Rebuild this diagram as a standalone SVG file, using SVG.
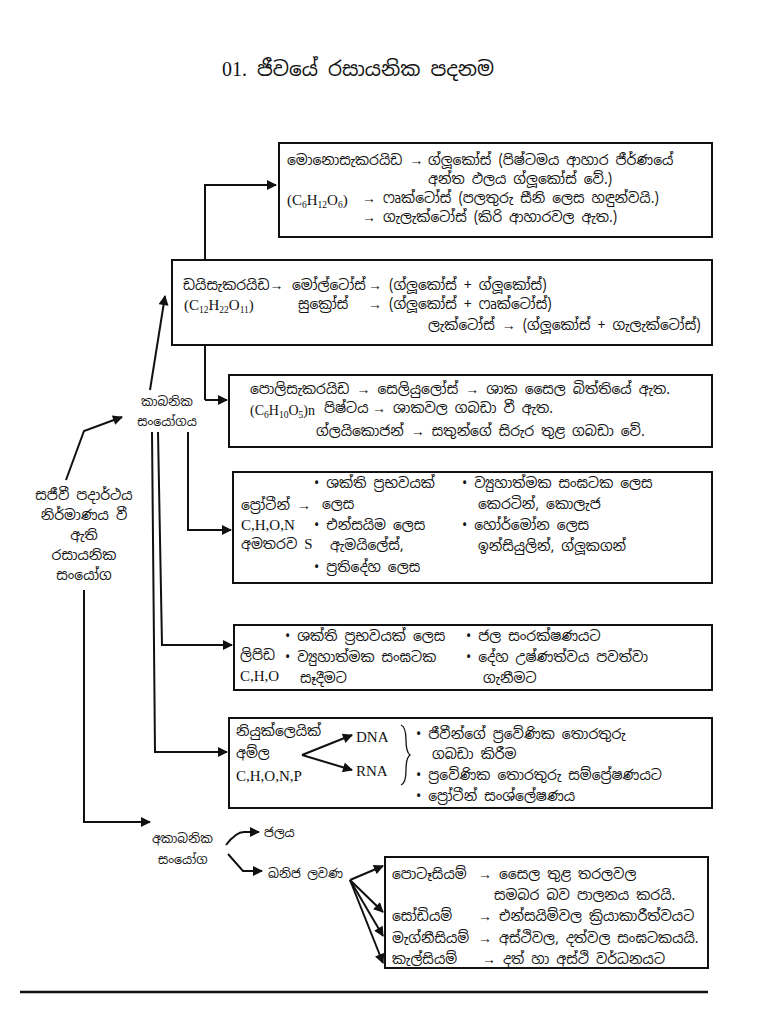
<svg xmlns="http://www.w3.org/2000/svg" width="768" height="1024" viewBox="0 0 768 1024">
<style>
text{font-family:"Noto Sans Sinhala","Noto Sans","Liberation Serif",sans-serif;font-size:14px;fill:#111}
.lat{font-family:"Liberation Serif",serif;font-size:15px}
.title{font-size:20px}
.sm{font-size:12.5px}
.box{fill:#fff;stroke:#111;stroke-width:2}
.ln{fill:none;stroke:#111;stroke-width:2}
.c{text-anchor:middle}
.s{font-size:9.5px}
</style>
<defs>
<marker id="ahl" viewBox="0 0 10 10" refX="9" refY="5" markerWidth="12" markerHeight="10" markerUnits="userSpaceOnUse" orient="auto"><path d="M0,0 L10,5 L0,10 z" fill="#111"/></marker>
</defs>
<rect width="768" height="1024" fill="#fff"/>
<text class="title" x="222" y="76"><tspan class="lat" style="font-size:20px">01.</tspan> ජීවයේ රසායනික පදනම</text>

<g id="connectors">
<path class="ln" d="M205,400 V185 H276" marker-end="url(#ahl)"/>
<path class="ln" d="M205,400 H227" marker-end="url(#ahl)"/>
<path class="ln" d="M150,390 L165,296" marker-end="url(#ahl)"/>
<path class="ln" d="M66,480 L84,431 L122,417" marker-end="url(#ahl)"/>
<path class="ln" d="M188,432 V530 H231" marker-end="url(#ahl)"/>
<path class="ln" d="M158,432 L162,645 H232" marker-end="url(#ahl)"/>
<path class="ln" d="M152,432 L155,752 H227" marker-end="url(#ahl)"/>
<path class="ln" d="M84,590 V822 H150" marker-end="url(#ahl)"/>
<path class="ln" d="M226,845 Q236,832 244,832 H259" marker-end="url(#ahl)"/>
<path class="ln" d="M228,854 L243,871 H262" marker-end="url(#ahl)"/>
<path class="ln" d="M350,880 L383,866" marker-end="url(#ahl)"/>
<path class="ln" d="M350,880 L383,912" marker-end="url(#ahl)"/>
<path class="ln" d="M350,880 L383,936" marker-end="url(#ahl)"/>
<path class="ln" d="M350,880 L383,963" marker-end="url(#ahl)"/>
<path class="ln" d="M20,992 H708" style="stroke-width:2.5"/>
</g>

<g id="n-living">
<text class="c" x="84" y="500">සජීවී පදාර්ථය</text>
<text class="c" x="84" y="520">නිර්මාණය වී</text>
<text class="c" x="84" y="540">ඇති</text>
<text class="c" x="84" y="560">රසායනික</text>
<text class="c" x="84" y="580">සංයෝග</text>
</g>

<g id="n-organic">
<text class="c sm" x="167" y="406">කාබනික</text>
<text class="c sm" x="167" y="426">සංයෝගය</text>
</g>

<g id="n-mono">
<rect class="box" x="279" y="143" width="433" height="94"/>
<text x="287" y="165">මොනොසැකරයිඩ →</text>
<text x="428" y="165">ග්ලූකෝස් (පිෂ්ටමය ආහාර ජීර්ණයේ</text>
<text x="428" y="184">අන්ත ඵලය ග්ලූකෝස් වේ.)</text>
<text x="287" y="205"><tspan class="lat">(C<tspan class="s" dy="3">6</tspan><tspan dy="-3">H</tspan><tspan class="s" dy="3">12</tspan><tspan dy="-3">O</tspan><tspan class="s" dy="3">6</tspan><tspan dy="-3">)</tspan></tspan></text>
<text x="362" y="203">→  ෆෘක්ටෝස් (පලතුරු සීනි ලෙස හඳුන්වයි.)</text>
<text x="362" y="222">→  ගැලැක්ටෝස් (කිරි ආහාරවල ඇත.)</text>
</g>

<g id="n-di">
<rect class="box" x="172" y="260" width="540" height="85"/>
<text x="183" y="290">ඩයිසැකරයිඩ→</text>
<text x="292" y="290">මෝල්ටෝස්</text>
<text x="368" y="290">→  (ග්ලූකෝස් + ග්ලූකෝස්)</text>
<text x="184" y="310"><tspan class="lat">(C<tspan class="s" dy="3">12</tspan><tspan dy="-3">H</tspan><tspan class="s" dy="3">22</tspan><tspan dy="-3">O</tspan><tspan class="s" dy="3">11</tspan><tspan dy="-3">)</tspan></tspan></text>
<text x="298" y="309">සුක්‍රෝස්</text>
<text x="368" y="309">→  (ග්ලූකෝස් + ෆෘක්ටෝස්)</text>
<text x="428" y="330">ලැක්ටෝස් → (ග්ලූකෝස් + ගැලැක්ටෝස්)</text>
</g>

<g id="n-poly">
<rect class="box" x="229" y="375" width="483" height="72"/>
<text x="250" y="394">පොලිසැකරයිඩ → සෙලියුලෝස් → ශාක සෛල බිත්තියේ ඇත.</text>
<text x="250" y="415"><tspan class="lat" style="font-size:14px">(C<tspan class="s" dy="3">6</tspan><tspan dy="-3">H</tspan><tspan class="s" dy="3">10</tspan><tspan dy="-3">O</tspan><tspan class="s" dy="3">5</tspan><tspan dy="-3">)n</tspan></tspan></text>
<text x="324" y="413">පිෂ්ටය</text>
<text x="372" y="413">→ ශාකවල ගබඩා වී ඇත.</text>
<text x="316" y="436">ග්ලයිකොජන් → සතුන්ගේ සිරුර තුළ ගබඩා වේ.</text>
</g>

<g id="n-protein">
<rect class="box" x="233" y="472" width="479" height="111"/>
<text x="241" y="510">ප්‍රෝටීන් →</text>
<text class="lat" x="241" y="530">C,H,O,N</text>
<text x="241" y="549">අමතරව <tspan class="lat">S</tspan></text>
<text x="314" y="488">•  ශක්ති ප්‍රභවයක්</text>
<text x="322" y="509">ලෙස</text>
<text x="314" y="530">•  එන්සයිම ලෙස</text>
<text x="330" y="550">ඇමයිලේස්,</text>
<text x="314" y="572">•  ප්‍රතිදේහ ලෙස</text>
<text x="462" y="488">• ව්‍යුහාත්මක සංඝටක ලෙස</text>
<text x="478" y="509">කෙරටින්, කොලැජ</text>
<text x="462" y="530">•  හෝර්මෝන ලෙස</text>
<text x="478" y="551">ඉන්සියුලින්, ග්ලූකගන්</text>
</g>

<g id="n-lipid">
<rect class="box" x="234" y="625" width="478" height="65"/>
<text x="240" y="660">ලිපිඩ</text>
<text class="lat" x="240" y="681">C,H,O</text>
<text x="285" y="641">•  ශක්ති ප්‍රභවයක් ලෙස</text>
<text x="285" y="662">•  ව්‍යුහාත්මක සංඝටක</text>
<text x="300" y="683">සෑදීමට</text>
<text x="466" y="641">•  ජල සංරක්ෂණයට</text>
<text x="466" y="662">•  දේහ උෂ්ණත්වය පවත්වා</text>
<text x="483" y="683">ගැනීමට</text>
</g>

<g id="n-nucleic">
<rect class="box" x="229" y="718" width="483" height="90"/>
<text x="236" y="736">නියුක්ලෙයික්</text>
<text x="236" y="758">අම්ල</text>
<text class="lat" x="236" y="781">C,H,O,N,P</text>
<path class="ln" d="M302,755 L352,735" marker-end="url(#ahl)"/>
<path class="ln" d="M302,755 L352,770" marker-end="url(#ahl)"/>
<text class="lat" x="356" y="742">DNA</text>
<text class="lat" x="356" y="776">RNA</text>
<path d="M401,725 Q406,727 406,740 Q406,752 410,755 Q406,758 406,770 Q406,783 401,785" fill="none" stroke="#111" stroke-width="1.3"/>
<text x="416" y="739">•  ජීවීන්ගේ ප්‍රවේණික තොරතුරු</text>
<text x="432" y="759">ගබඩා කිරීම</text>
<text x="416" y="780">•  ප්‍රවේණික තොරතුරු සම්ප්‍රේෂණයට</text>
<text x="416" y="801">•  ප්‍රෝටීන් සංශ්ලේෂණය</text>
</g>

<g id="n-inorganic">
<text class="sm" x="152" y="843">අකාබනික</text>
<text class="sm" x="158" y="864">සංයෝග</text>
</g>
<g id="n-water"><text class="sm" x="264" y="837">ජලය</text></g>
<g id="n-minerals"><text class="sm" x="268" y="878">ඛනිජ ලවණ</text></g>

<g id="n-ions">
<rect class="box" x="385" y="857" width="323" height="111"/>
<text x="392" y="879">පොටෑසියම්</text>
<text x="478" y="879">→ සෛල තුළ තරලවල</text>
<text x="494" y="900">සමබර බව පාලනය කරයි.</text>
<text x="392" y="921">සෝඩියම්</text>
<text x="478" y="921">→ එන්සයිම්වල ක්‍රියාකාරීත්වයට</text>
<text x="392" y="943">මැග්නීසියම්</text>
<text x="478" y="943">→ අස්ථිවල, දත්වල සංඝටකයයි.</text>
<text x="392" y="964">කැල්සියම්</text>
<text x="482" y="964">→ දත් හා අස්ථි වර්ධනයට</text>
</g>
</svg>
